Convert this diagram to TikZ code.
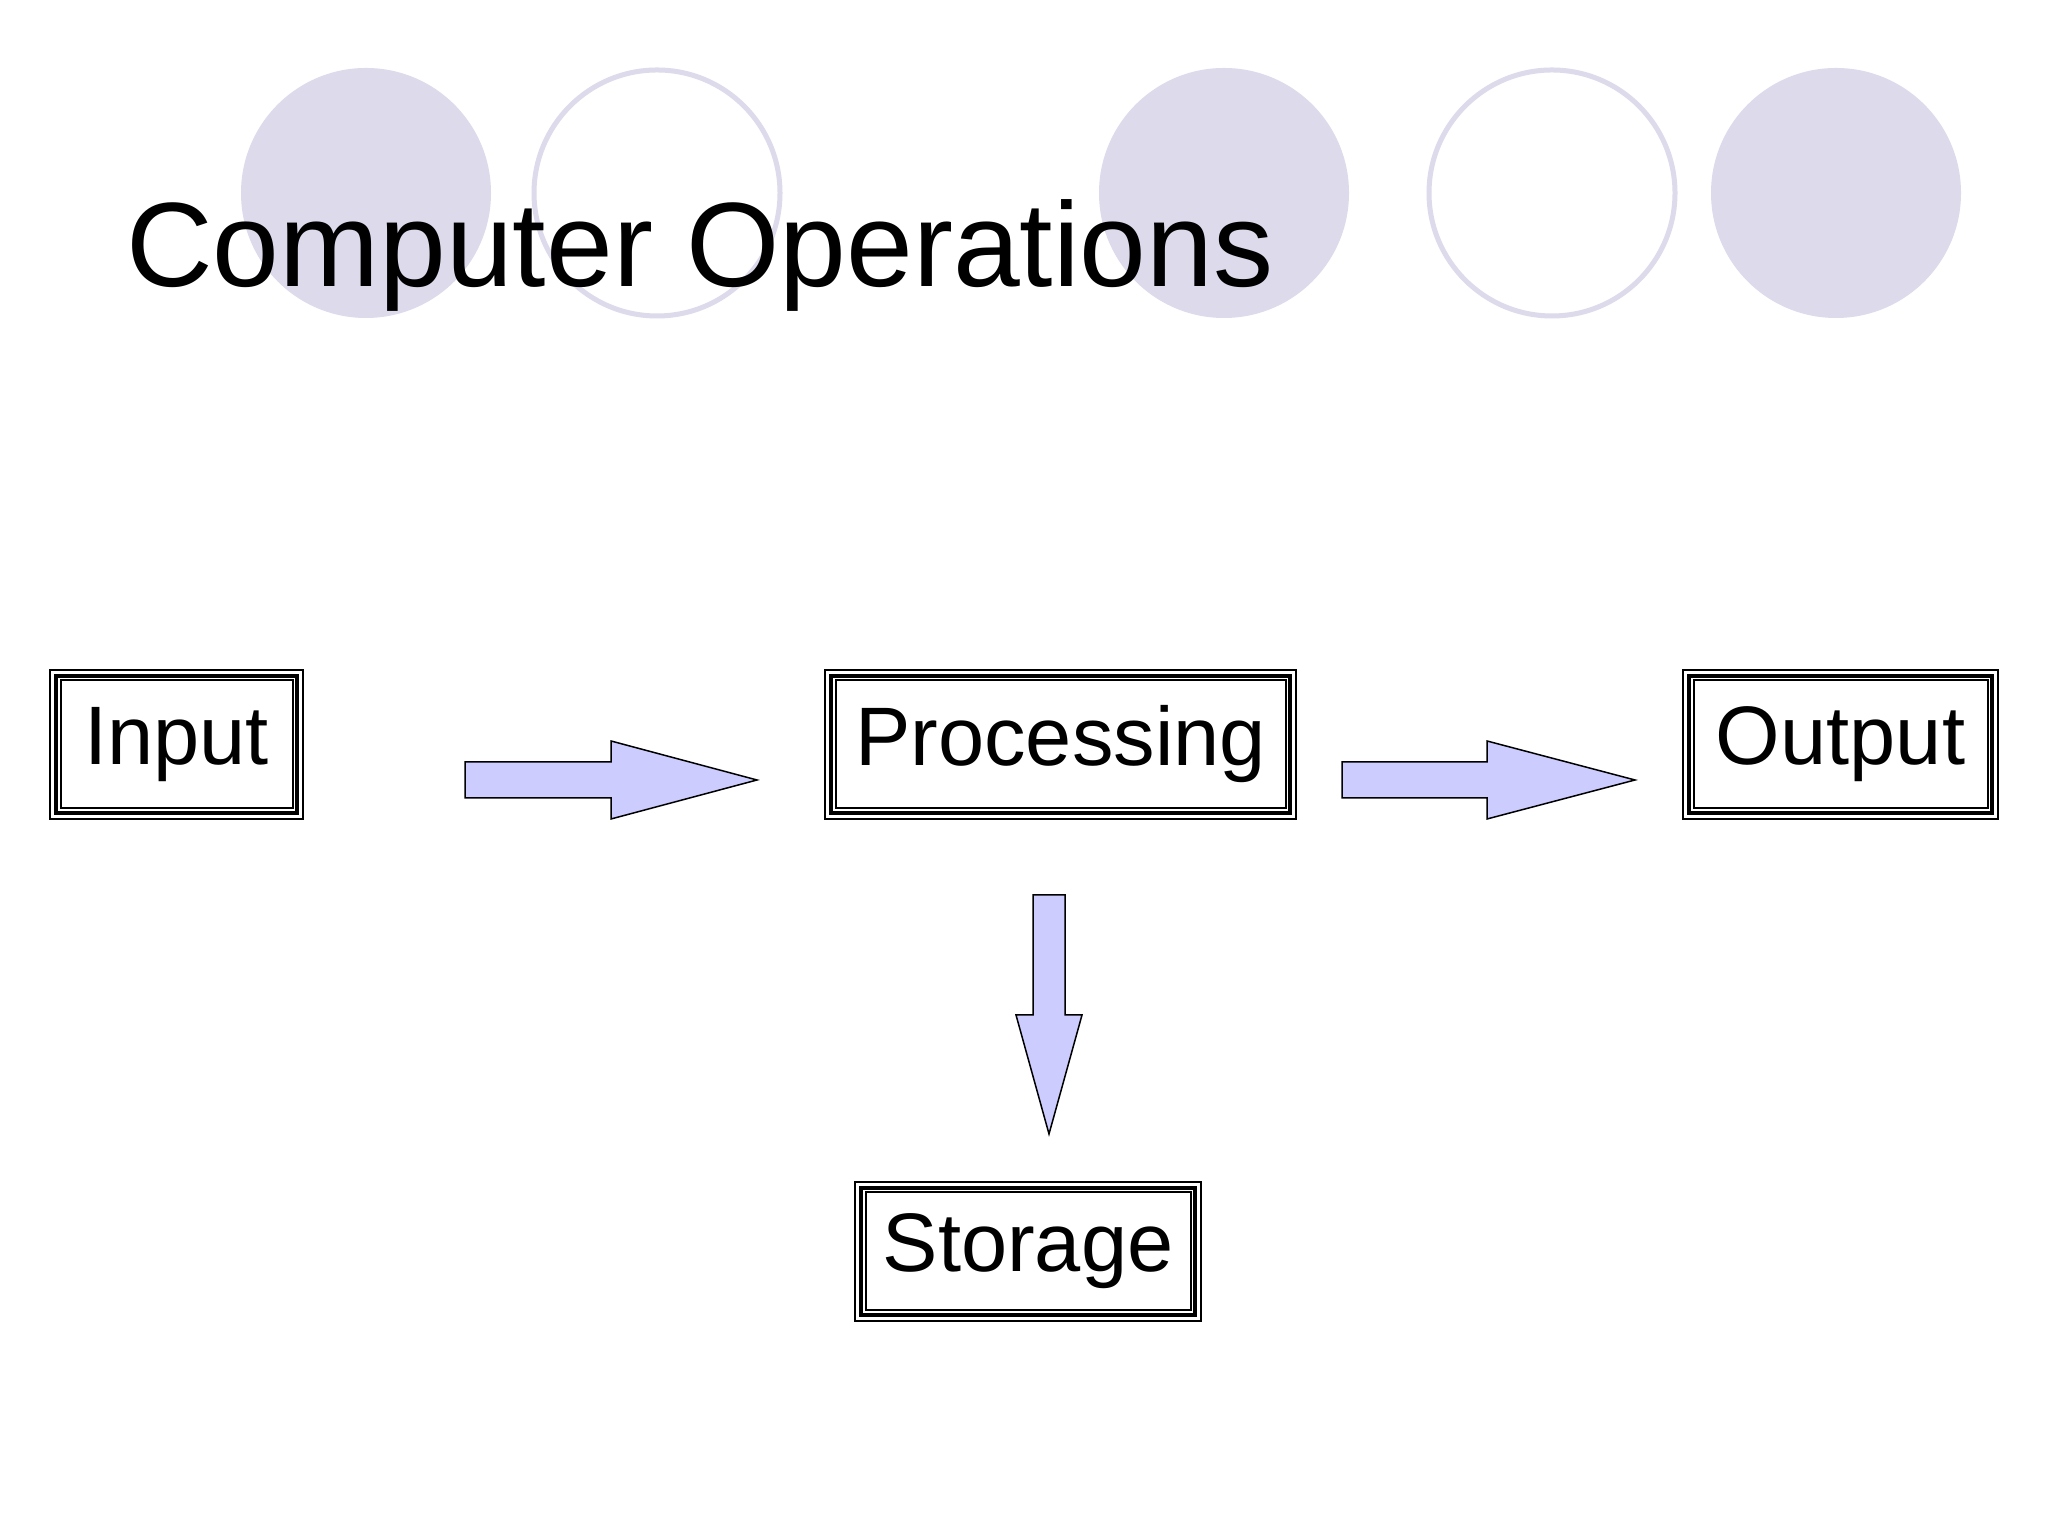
\documentclass[tikz,border=0pt]{standalone}
\usepackage{fontspec}
\setmainfont{Liberation Sans}
\definecolor{circ}{HTML}{DCDAEB}
\definecolor{arr}{HTML}{CCCCFF}
\newcommand\mytribox[1]{%
  \draw[line width=3.5pt] ([shift={(7pt,-7pt)}]#1.north west) rectangle ([shift={(-7pt,7pt)}]#1.south east);
  \draw[line width=2pt] ([shift={(11.5pt,-11.5pt)}]#1.north west) rectangle ([shift={(-11.5pt,11.5pt)}]#1.south east);}
\begin{document}
\begin{tikzpicture}[x=1pt,y=1pt,
  box/.style={draw,line width=2pt,inner sep=0pt,font=\fontsize{83}{90}\selectfont},
  fc/.style={fill=circ},
  oc/.style={draw=circ,line width=5pt},
  ar/.style={draw=black,line width=1.5pt,fill=arr,line join=miter}]
\useasboundingbox (0,0) rectangle (2048,1536);
\fill[white] (0,0) rectangle (2048,1536);
\fill[fc] (366,1343) circle (125);
\draw[oc] (657,1343) circle (123);
\fill[fc] (1224,1343) circle (125);
\draw[oc] (1552,1343) circle (123);
\fill[fc] (1836,1343) circle (125);
\node[anchor=base west,font=\fontsize{120}{130}\selectfont,inner sep=0pt] (title) at (126,1249) {Computer Operations};
\node[box,minimum width=253,minimum height=149] (in) at (176.5,791.5) {Input};
\node[box,minimum width=471,minimum height=149] (pr) at (1060.5,791.5) {Processing};
\node[box,minimum width=315,minimum height=149] (out) at (1840.5,791.5) {Output};
\node[box,minimum width=346,minimum height=139] (st) at (1028,284.5) {Storage};
\mytribox{in}\mytribox{pr}\mytribox{out}\mytribox{st}
\draw[ar] (465,774)--(611,774)--(611,795)--(757,756)--(611,717)--(611,738)--(465,738)--cycle;
\draw[ar] (1342,774)--(1487,774)--(1487,795)--(1635,756)--(1487,717)--(1487,738)--(1342,738)--cycle;
\draw[ar] (1033,641)--(1065,641)--(1065,521)--(1082,521)--(1049,402)--(1016,521)--(1033,521)--cycle;
\end{tikzpicture}
\end{document}
